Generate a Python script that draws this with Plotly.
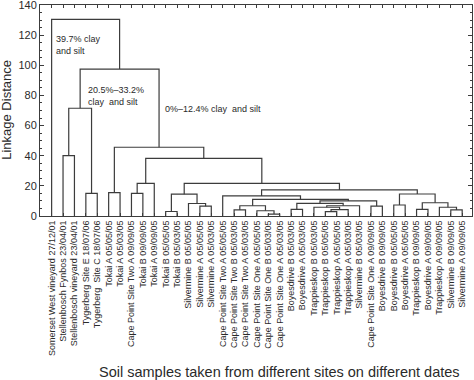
import plotly.graph_objects as go

# ---------------- data ----------------
leaf_labels = [
    "Somerset West vineyard 27/12/01",
    "Stellenbosch Fynbos 23/04/01",
    "Stellenbosch vineyard 23/04/01",
    "Tygerberg Site E 18/07/06",
    "Tygerberg  Site C 18/07/06",
    "Tokai A 05/05/05",
    "Tokai A 05/03/05",
    "Cape Point Site Two A 09/09/05",
    "Tokai B 09/09/05",
    "Tokai A 09/09/05",
    "Tokai B 05/05/05",
    "Tokai B 05/03/05",
    "Silvermine B 05/05/05",
    "Silvermine A 05/05/05",
    "Silvermine A 05/03/05",
    "Cape Point Site Two A 05/05/05",
    "Cape Point Site Two B 05/03/05",
    "Cape Point Site Two A 05/03/05",
    "Cape Point Site One A 05/05/05",
    "Cape Point Site One B 05/03/05",
    "Cape Point Site One A 05/03/05",
    "Boyesdrive B 05/03/05",
    "Boyesdrive A 05/03/05",
    "Trappieskop B 05/03/05",
    "Trappieskop B 05/05/05",
    "Trappieskop A 05/05/05",
    "Trappieskop A 05/03/05",
    "Silvermine B 05/03/05",
    "Cape Point Site One A 09/09/05",
    "Boyesdrive B 09/09/05",
    "Boyesdrive B 05/05/05",
    "Boyesdrive A 05/05/05",
    "Trappieskop B 09/09/05",
    "Boyesdrive A 09/09/05",
    "Trappieskop A 09/09/05",
    "Silvermine B 09/09/05",
    "Silvermine A 09/09/05",
]
N = len(leaf_labels)  # 37 leaves; cluster ids >= N refer to earlier merges (N + merge index)

merge_left = [10, 13, 12, 37, 19, 18, 16, 43, 21, 24, 46, 23, 48, 45, 28, 50, 44, 15, 30, 32, 35, 34, 56, 55, 54, 40, 7, 63, 64, 5, 66, 1, 3, 68, 70, 0]
merge_right = [11, 14, 38, 39, 20, 41, 17, 42, 22, 25, 26, 47, 27, 49, 29, 51, 52, 53, 31, 33, 36, 57, 58, 59, 60, 61, 8, 9, 62, 6, 65, 2, 4, 69, 67, 71]
merge_height = [3.0, 6.5, 8.3, 14.5, 1.3, 3.5, 4.0, 6.8, 4.4, 2.9, 4.2, 5.8, 6.8, 8.4, 6.6, 10.0, 11.0, 13.3,
                7.3, 4.4, 4.0, 5.8, 8.8, 14.6, 17.3, 21.7, 15.0, 21.7, 38.3, 15.5, 45.6, 40.0, 15.0, 71.5, 97.5, 130.5]

y_ticks = [0, 20, 40, 60, 80, 100, 120, 140]

group_notes = ["39.7% clay<br>and silt", "20.5%\u201333.2%<br>clay  and silt", "0%\u201312.4% clay  and silt"]

# ---------------- build dendrogram segments ----------------
pos = {i: (float(i), 0.0) for i in range(N)}
xs, ys = [], []
for k, (a, b, h) in enumerate(zip(merge_left, merge_right, merge_height)):
    xa, ha = pos[a]
    xb, hb = pos[b]
    xs += [xa, xa, xb, xb, None]
    ys += [ha, h, h, hb, None]
    pos[N + k] = ((xa + xb) / 2.0, h)

LINE = "#3c3c3c"
TXT = "#2a2a2a"
FONT = "Liberation Sans, Arial, sans-serif"

W, H = 474, 380
ML, MR, MT, MB = 40, 1.5, 5, 163.5
PW, PH = W - ML - MR, H - MT - MB

def px_x(p):
    return (p - ML) / PW

def px_y(p):
    return 1 - (p - MT) / PH

fig = go.Figure()
fig.add_trace(go.Scatter(x=xs, y=ys, mode="lines",
                         line=dict(color=LINE, width=1.2),
                         hoverinfo="skip", showlegend=False))

fig.update_layout(
    template="none",
    width=W, height=H,
    margin=dict(l=ML, r=MR, t=MT, b=MB, pad=0, autoexpand=False),
    paper_bgcolor="white", plot_bgcolor="white",
    font=dict(family=FONT, color=TXT),
    showlegend=False,
)
fig.update_xaxes(
    range=[-1.02, 36.86], automargin=False,
    tickmode="array", tickvals=list(range(N)), ticktext=leaf_labels,
    tickangle=-90, tickfont=dict(size=9, color=TXT, family=FONT),
    ticks="inside", ticklen=3, tickcolor=LINE,
    showline=True, linecolor=LINE, linewidth=1, mirror="allticks",
    showgrid=False, zeroline=False, ticklabeloverflow="allow",
)
fig.update_yaxes(
    range=[0, 140], automargin=False,
    tickmode="array", tickvals=y_ticks,
    tickfont=dict(size=11, color=TXT, family=FONT),
    ticks="inside", ticklen=4, tickcolor=LINE,
    minor=dict(dtick=5, ticks="inside", ticklen=2, tickcolor=LINE, showgrid=False),
    showline=True, linecolor=LINE, linewidth=1, mirror="allticks",
    showgrid=False, zeroline=False, ticklabeloverflow="allow",
)

# Axis titles
fig.add_annotation(text="Linkage Distance", xref="paper", yref="paper",
                   x=px_x(7), y=px_y(110), textangle=-90, showarrow=False,
                   xanchor="center", yanchor="middle",
                   font=dict(size=13, color=TXT, family=FONT))
fig.add_annotation(text="Soil samples taken from different sites on different dates",
                   xref="paper", yref="paper", x=px_x(280), y=px_y(373),
                   showarrow=False, xanchor="center", yanchor="middle",
                   font=dict(size=14.5, color=TXT, family=FONT))

# Group notes (placed in data coordinates of the dendrogram)
fig.add_annotation(text=group_notes[0], x=0.25, y=122, xref="x", yref="y",
                   showarrow=False, xanchor="left", yanchor="top", align="left",
                   font=dict(size=9, color=TXT, family=FONT))
fig.add_annotation(text=group_notes[1], x=3.0, y=88, xref="x", yref="y",
                   showarrow=False, xanchor="left", yanchor="top", align="left",
                   font=dict(size=9, color=TXT, family=FONT))
fig.add_annotation(text=group_notes[2], x=9.75, y=75.5, xref="x", yref="y",
                   showarrow=False, xanchor="left", yanchor="top", align="left",
                   font=dict(size=9, color=TXT, family=FONT))

fig.write_html("out.html")
